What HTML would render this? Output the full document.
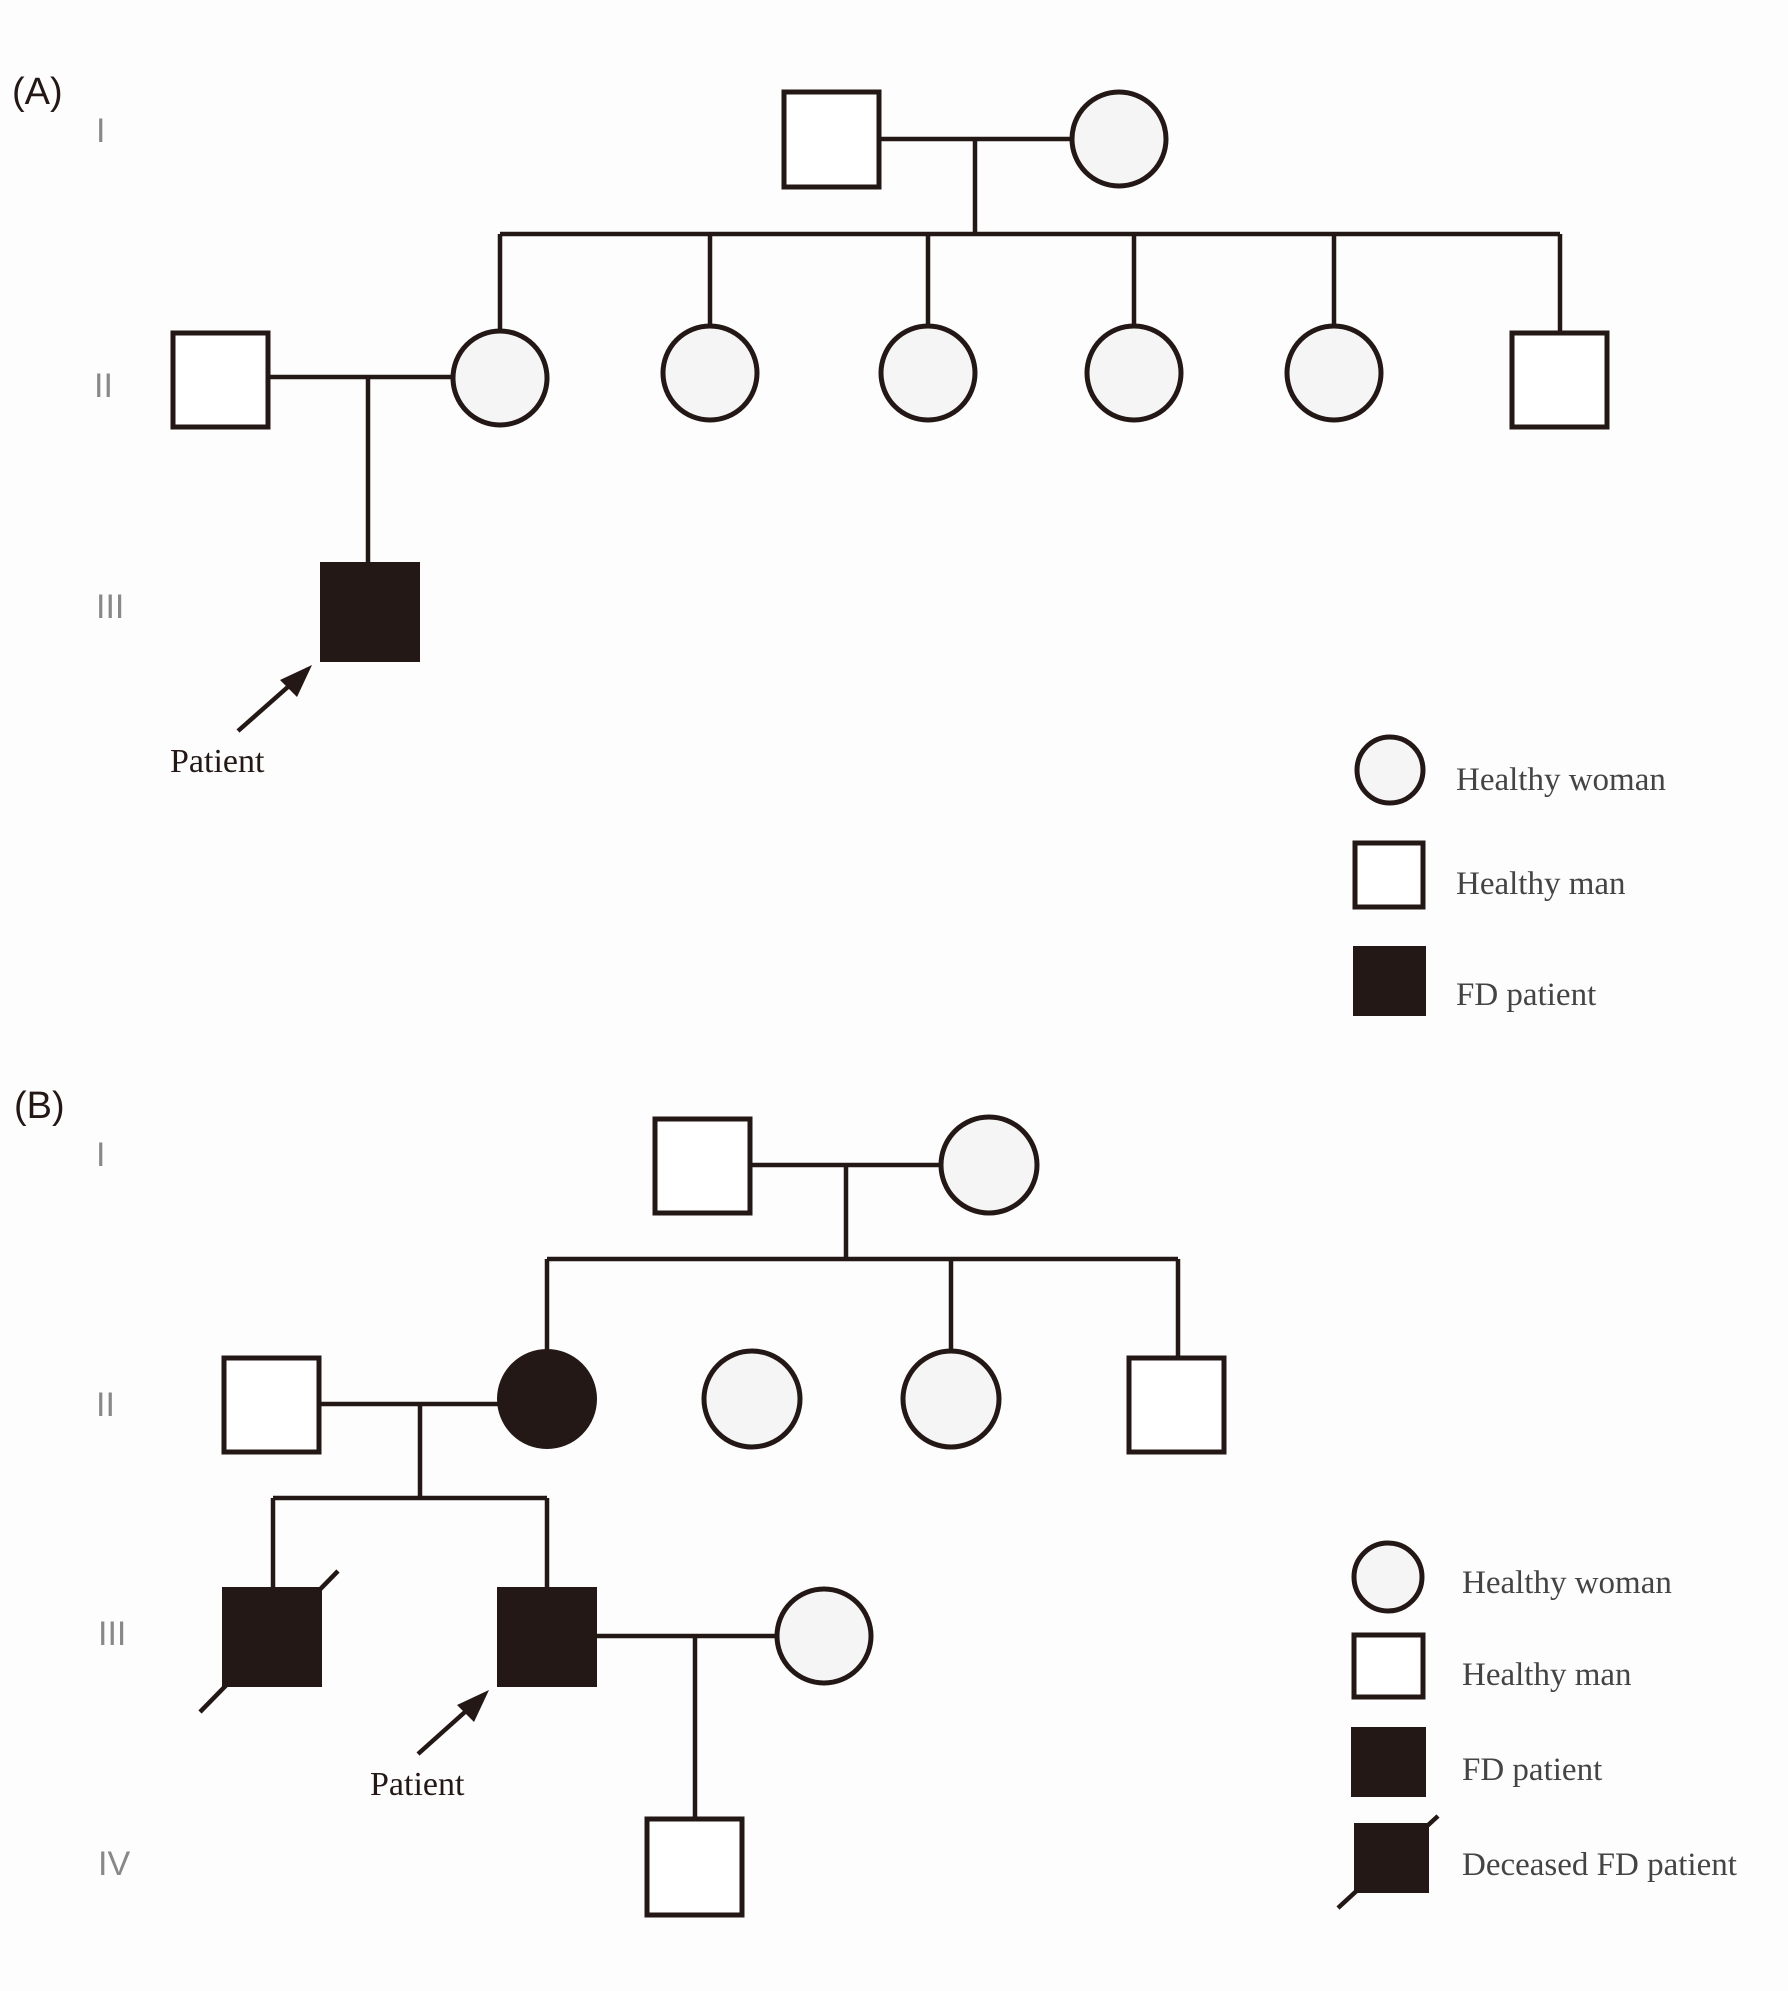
<!DOCTYPE html>
<html><head><meta charset="utf-8"><style>
html,body{margin:0;padding:0;background:#fdfdfd;}
svg{display:block;}
.s{fill:#fff;stroke:#231815;stroke-width:5;}
.c{fill:#f5f5f5;stroke:#231815;stroke-width:5;}
.f{fill:#231815;stroke:#231815;stroke-width:4;}
.l{stroke:#231815;stroke-width:4.5;fill:none;}
.g{font-family:"Liberation Sans",sans-serif;font-size:34px;fill:#888;}
.t{font-family:"Liberation Serif",serif;font-size:33px;fill:#444;}
.p{font-family:"Liberation Serif",serif;font-size:34px;fill:#231815;}
.h{font-family:"Liberation Sans",sans-serif;font-size:38px;fill:#231815;}
</style></head><body>
<svg width="1788" height="1991" viewBox="0 0 1788 1991" xmlns="http://www.w3.org/2000/svg">
<rect width="1788" height="1991" fill="#fdfdfd"/>
<!-- Panel A -->
<text class="h" x="12" y="104">(A)</text>
<text class="g" x="96" y="142">I</text>
<text class="g" x="94" y="397">II</text>
<text class="g" x="96" y="618">III</text>
<line class="l" x1="879" y1="139" x2="1072" y2="139"/>
<line class="l" x1="975" y1="139" x2="975" y2="234"/>
<line class="l" x1="500" y1="234" x2="1560" y2="234"/>
<line class="l" x1="500" y1="234" x2="500" y2="330"/>
<line class="l" x1="710" y1="234" x2="710" y2="326"/>
<line class="l" x1="928" y1="234" x2="928" y2="326"/>
<line class="l" x1="1134" y1="234" x2="1134" y2="326"/>
<line class="l" x1="1334" y1="234" x2="1334" y2="326"/>
<line class="l" x1="1560" y1="234" x2="1560" y2="333"/>
<rect class="s" x="784" y="92" width="95" height="95"/>
<circle class="c" cx="1119" cy="139" r="47"/>
<line class="l" x1="268" y1="377" x2="452" y2="377"/>
<line class="l" x1="368" y1="377" x2="368" y2="563"/>
<rect class="s" x="173" y="333" width="95" height="94"/>
<circle class="c" cx="500" cy="378" r="47"/>
<circle class="c" cx="710" cy="373" r="47"/>
<circle class="c" cx="928" cy="373" r="47"/>
<circle class="c" cx="1134" cy="373" r="47"/>
<circle class="c" cx="1334" cy="373" r="47"/>
<rect class="s" x="1512" y="333" width="95" height="94"/>
<rect class="f" x="322" y="564" width="96" height="96"/>
<line class="l" x1="238" y1="731" x2="298" y2="678"/>
<polygon points="312,665 280,680 297,697" fill="#231815"/>
<text class="p" x="170" y="772">Patient</text>
<circle class="c" cx="1390" cy="770" r="33"/>
<text class="t" x="1456" y="790">Healthy woman</text>
<rect class="s" x="1355" y="843" width="68" height="64"/>
<text class="t" x="1456" y="894">Healthy man</text>
<rect class="f" x="1355" y="948" width="69" height="66"/>
<text class="t" x="1456" y="1005">FD patient</text>
<!-- Panel B -->
<text class="h" x="14" y="1118">(B)</text>
<text class="g" x="96" y="1166">I</text>
<text class="g" x="96" y="1416">II</text>
<text class="g" x="98" y="1645">III</text>
<text class="g" x="98" y="1875">IV</text>
<line class="l" x1="750" y1="1165" x2="941" y2="1165"/>
<line class="l" x1="846" y1="1165" x2="846" y2="1259"/>
<line class="l" x1="547" y1="1259" x2="1178" y2="1259"/>
<line class="l" x1="547" y1="1259" x2="547" y2="1352"/>
<line class="l" x1="951" y1="1259" x2="951" y2="1352"/>
<line class="l" x1="1178" y1="1259" x2="1178" y2="1358"/>
<rect class="s" x="655" y="1119" width="95" height="94"/>
<circle class="c" cx="989" cy="1165" r="48"/>
<line class="l" x1="319" y1="1404" x2="500" y2="1404"/>
<line class="l" x1="420" y1="1404" x2="420" y2="1498"/>
<line class="l" x1="273" y1="1498" x2="547" y2="1498"/>
<line class="l" x1="273" y1="1498" x2="273" y2="1588"/>
<line class="l" x1="547" y1="1498" x2="547" y2="1588"/>
<rect class="s" x="224" y="1358" width="95" height="94"/>
<circle class="f" cx="547" cy="1399" r="48"/>
<circle class="c" cx="752" cy="1399" r="48"/>
<circle class="c" cx="951" cy="1399" r="48"/>
<rect class="s" x="1129" y="1358" width="95" height="94"/>
<rect class="f" x="224" y="1589" width="96" height="96"/>
<line class="l" x1="200" y1="1712" x2="338" y2="1571"/>
<line class="l" x1="595" y1="1636" x2="777" y2="1636"/>
<line class="l" x1="695" y1="1636" x2="695" y2="1819"/>
<rect class="f" x="499" y="1589" width="96" height="96"/>
<circle class="c" cx="824" cy="1636" r="47"/>
<rect class="s" x="647" y="1819" width="95" height="96"/>
<line class="l" x1="418" y1="1754" x2="475" y2="1703"/>
<polygon points="489,1690 457,1705 474,1722" fill="#231815"/>
<text class="p" x="370" y="1795">Patient</text>
<circle class="c" cx="1388" cy="1577" r="34"/>
<text class="t" x="1462" y="1593">Healthy woman</text>
<rect class="s" x="1354" y="1635" width="69" height="62"/>
<text class="t" x="1462" y="1685">Healthy man</text>
<rect class="f" x="1353" y="1729" width="71" height="66"/>
<text class="t" x="1462" y="1780">FD patient</text>
<rect class="f" x="1356" y="1825" width="71" height="66"/>
<line class="l" x1="1338" y1="1908" x2="1438" y2="1816"/>
<text class="t" x="1462" y="1875">Deceased FD patient</text>
</svg>
</body></html>
